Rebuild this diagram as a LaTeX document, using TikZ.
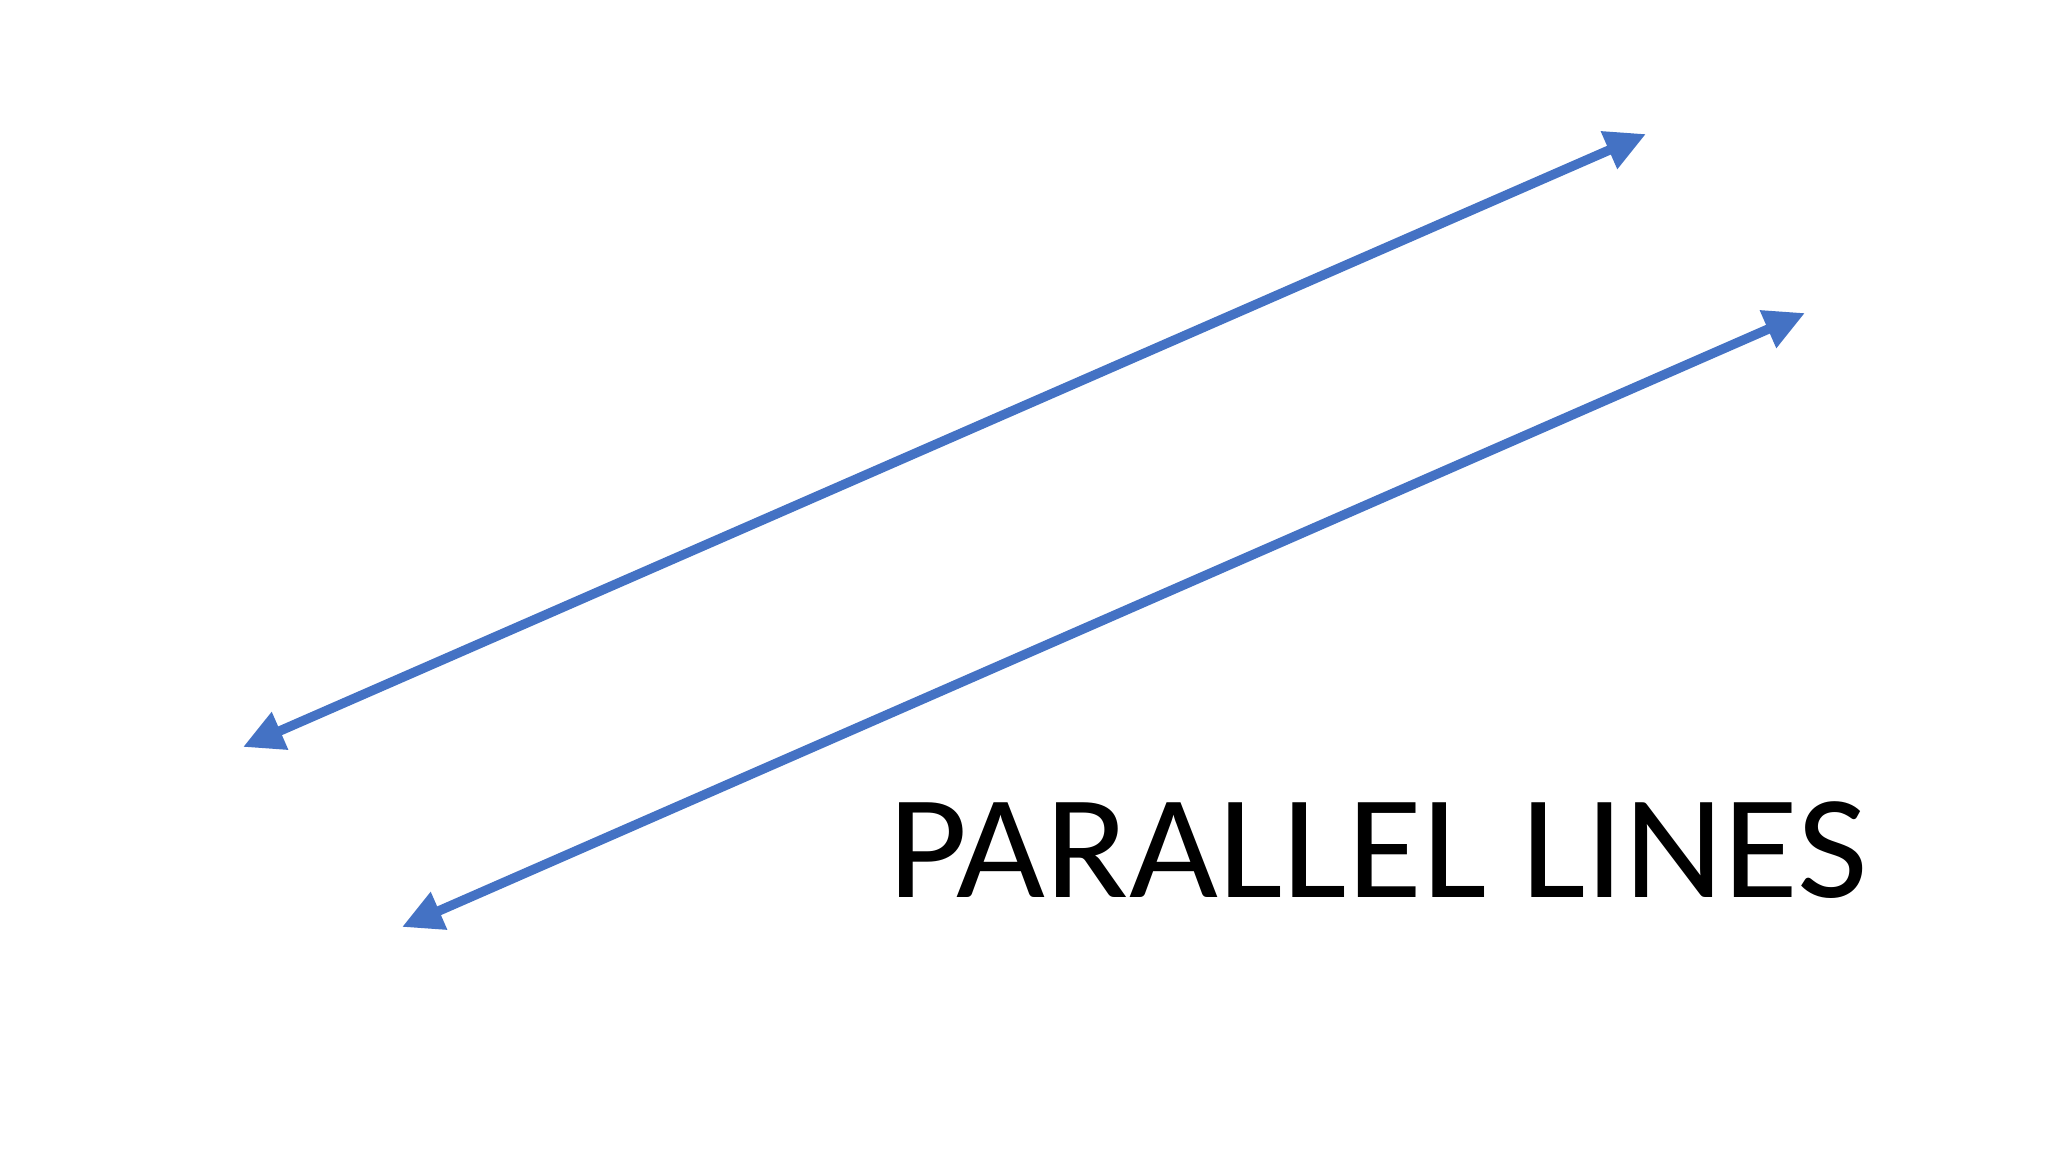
\documentclass[tikz,border=0pt]{standalone}
\usepackage{fontspec}
\setmainfont{Carlito}
\usetikzlibrary{arrows.meta}
\definecolor{lineblue}{RGB}{68,114,196}
\tikzset{
  parline/.style={draw=lineblue, line width=2.7pt, {Triangle[length=11.5pt,width=11pt]}-{Triangle[length=11.5pt,width=11pt]}},
  title/.style={font=\fontsize{42}{50}\selectfont, text=black, inner sep=0pt, anchor=base west}
}
\begin{document}
\begin{tikzpicture}[x=0.01cm,y=-0.01cm]
\useasboundingbox[fill=white] (0,0) rectangle (2048,1152);
\coordinate (a1) at (243,747);
\coordinate (b1) at (1646,134);
\coordinate (a2) at (402,927);
\coordinate (b2) at (1805,313);
\draw[parline] (a1) -- (b1);
\draw[parline] (a2) -- (b2);
\node[title, xscale=1.04] (lbl) at (888,897) {PARALLEL LINES};
\end{tikzpicture}
\end{document}
